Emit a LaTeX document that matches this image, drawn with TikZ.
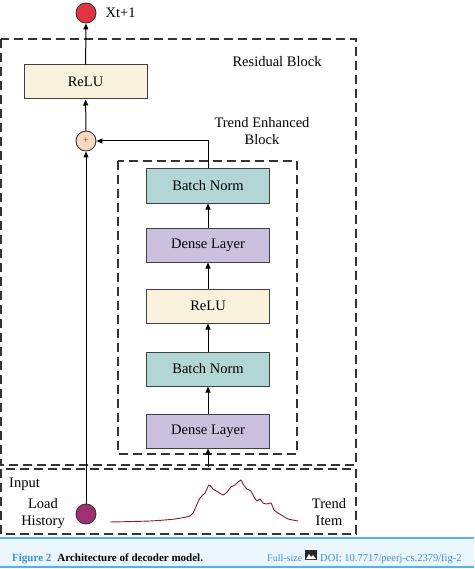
\documentclass[tikz,border=0pt]{standalone}
\usepackage{fontspec}
\setmainfont{Liberation Serif}
\usetikzlibrary{arrows.meta,positioning}
\definecolor{bnTeal}{RGB}{178,214,213}
\definecolor{dlLilac}{RGB}{203,192,221}
\definecolor{reluCream}{RGB}{249,243,221}
\definecolor{sumPeach}{RGB}{248,218,192}
\definecolor{outRed}{RGB}{226,52,64}
\definecolor{loadPlum}{RGB}{160,48,112}
\definecolor{trendRed}{RGB}{130,30,45}
\definecolor{capBlue}{RGB}{55,150,210}
\definecolor{capBar}{RGB}{234,246,252}
\definecolor{capLine}{RGB}{80,180,230}

\begin{document}
\begin{tikzpicture}[x=1pt,y=-1pt,
        layer/.style={draw=black!75,line width=1pt,minimum width=123pt,minimum height=34pt,inner sep=0pt,font=\fontsize{14.5}{17}\selectfont},
        blob/.style={circle,draw=black!80,line width=0.9pt,minimum size=20pt,inner sep=0pt},
        lbl/.style={align=center,inner sep=0pt,font=\fontsize{14.5}{17}\selectfont},
        frame/.style={draw=black!80,line width=1.2pt,dash pattern=on 9pt off 5pt},
        arrow/.style={-{Triangle[length=6pt,width=5pt]},line width=1pt}
      ]
        \useasboundingbox (0,0) rectangle (474,569);
        % dashed frames
        \draw[frame] (1,39) rectangle (356,465);
        \draw[frame] (1,469) rectangle (356,534);
        \draw[frame] (118,161) rectangle (297,454);
        \node[lbl] (resname) at (277,62) {Residual Block};
        \node[lbl] (tebname) at (262,131) {Trend Enhanced\\Block};
        % trend enhanced block
        \node[layer,fill=dlLilac] (dense2) at (208,431) {Dense Layer};
        \node[layer,fill=bnTeal,above=27pt of dense2] (bn2) {Batch Norm};
        \node[layer,fill=reluCream,above=28pt of bn2] (relu2) {ReLU};
        \node[layer,fill=dlLilac,above=26pt of relu2] (dense1) {Dense Layer};
        \node[layer,fill=bnTeal,above=24pt of dense1] (bn1) {Batch Norm};
        % residual path
        \node[blob,fill=sumPeach] (plus) at (86,141) {\fontsize{10}{10}\selectfont\color{black!70}+};
        \node[layer,fill=reluCream] (relu1) at (85.5,82) {ReLU};
        \node[blob,fill=outRed] (xt) at (86,13) {};
        \node[lbl,right=9pt of xt] (xtname) {Xt+1};
        % input
        \node[blob,fill=loadPlum] (load) at (86,514) {};
        \node[lbl,anchor=west] (inname) at (9,484) {Input};
        \node[lbl] (loadname) at (43,514) {Load\\History};
        \node[lbl] (trendname) at (329,512) {Trend\\Item};
        \coordinate (inlet) at (208,467);
        \draw[trendRed,line width=0.9pt] plot[smooth,tension=0.4] coordinates {
          (110,522) (150,521) (175,519) (190,516) (193,513) (200,498) (205,493) (209,485)
          (213,489) (218,492) (223,495) (227,492) (231,487) (235,485) (237,483) (241,480)
          (243,484) (247,489) (251,491) (254,497) (257,501) (260,499) (263,503) (267,504)
          (271,503) (274,510) (278,513) (283,516) (288,519) (298,521)};
        % connectors
        \draw[arrow] (inlet) -- (dense2);
        \draw[arrow] (dense2) -- (bn2);
        \draw[arrow] (bn2) -- (relu2);
        \draw[arrow] (relu2) -- (dense1);
        \draw[arrow] (dense1) -- (bn1);
        \draw[arrow] (bn1.north) |- (plus.east);
        \draw[arrow] (load) -- (plus);
        \draw[arrow] (plus) -- (relu1);
        \draw[arrow] (relu1) -- (xt);
        % caption bar
        \fill[capBar] (0,538) rectangle (474,567);
        \draw[capLine,line width=1.2pt] (0,538) -- (474,538);
        \draw[capLine,line width=2pt] (0,567) -- (474,567);
        \node[anchor=base west,inner sep=0pt,font=\fontsize{11}{13}\selectfont\bfseries] (capl) at (12,561)
          {\textcolor{capBlue}{Figure 2}\hspace{6pt}Architecture of decoder model.};
        \node[anchor=base west,inner sep=0pt,font=\fontsize{10}{12}\selectfont,text=capBlue] (full) at (267,561) {Full-size};
        \fill[black!85] (305,550) rectangle (317,560);
        \fill[white] (306,559) -- (309,554) -- (311,557) -- (313,555) -- (316,559) -- cycle;
        \node[anchor=base west,inner sep=0pt,font=\fontsize{10.5}{12}\selectfont,text=capBlue] (doi) at (320,561) {DOI: 10.7717/peerj-cs.2379/fig-2};
      \end{tikzpicture}
\end{document}
